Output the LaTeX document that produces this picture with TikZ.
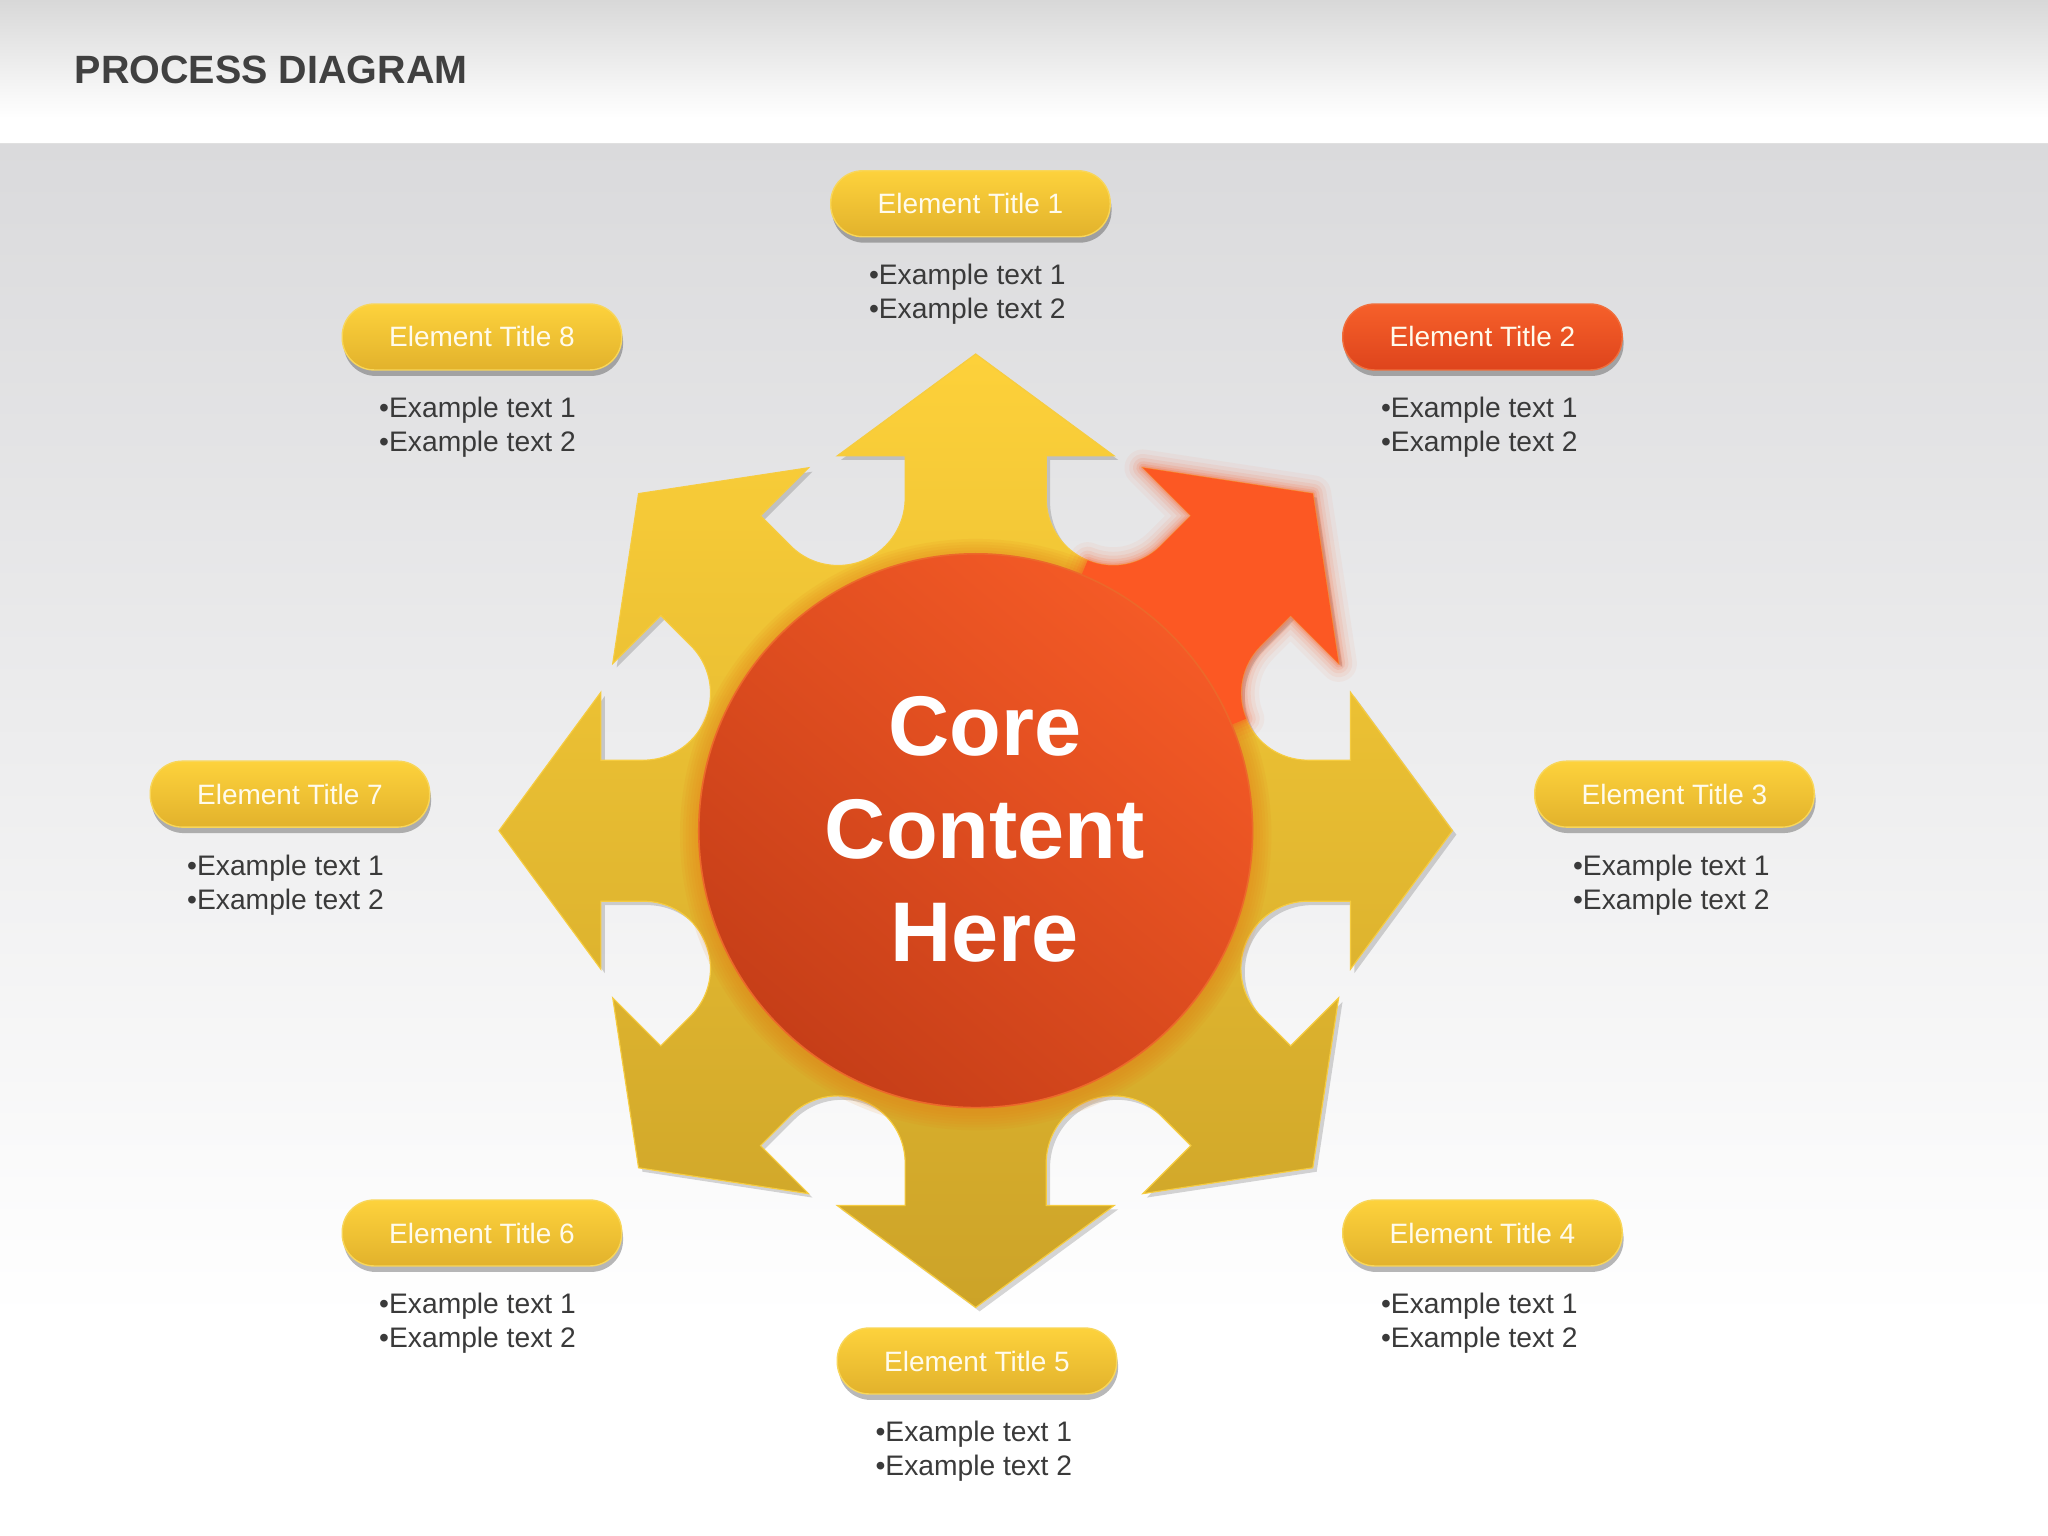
\documentclass[tikz,border=0pt]{standalone}
\usepackage{fontspec}
\setmainfont{Liberation Sans}
\usetikzlibrary{shadows}

\definecolor{ylTop}{RGB}{253,209,58}
\definecolor{ylBot}{RGB}{204,163,40}
\definecolor{ylEdge}{RGB}{246,204,64}
\definecolor{redArrow}{RGB}{252,88,35}
\definecolor{redLight}{RGB}{244,90,38}
\definecolor{redDark}{RGB}{198,62,24}
\definecolor{redEdge}{RGB}{236,104,42}
\definecolor{haloCol}{RGB}{228,132,24}
\definecolor{txtGray}{RGB}{58,58,58}
\definecolor{titleGray}{RGB}{64,64,64}
\definecolor{pillTop}{RGB}{253,210,60}
\definecolor{pillBot}{RGB}{226,178,44}
\definecolor{pillEdge}{RGB}{248,214,90}
\definecolor{pillRedTop}{RGB}{246,96,42}
\definecolor{pillRedBot}{RGB}{222,68,28}
\definecolor{pillRedEdge}{RGB}{240,110,60}
\definecolor{bgGray}{RGB}{218,218,220}
\definecolor{hdGray}{RGB}{216,216,216}
\definecolor{pillText}{RGB}{255,251,236}

% outline of the eight-arrow star (centre at origin)
\newcommand\starpath{%
  ({90+11.982}:260.10)
  \foreach \a in {90,45,0,-45,-90,-135,-180,-225}{
    -- ({\a+11.982}:260.10) -- ({\a+10.655}:292.04) -- ({\a+20.27}:305.95)
    -- (\a:365) -- ({\a-20.27}:305.95) -- ({\a-10.655}:292.04)
    -- ({\a-11.982}:260.10)
    arc[start angle={\a+90}, end angle={\a+225}, radius=51.39]
  } -- cycle}

% outline of the highlighted (north-east) arrow
\newcommand\redpath{%
  (67.5:224) arc[start angle=247.5, end angle=315, radius=51.39]
  -- (56.982:260.10) -- (55.655:292.04) -- (65.27:305.95) -- (45:365)
  -- (24.73:305.95) -- (34.345:292.04) -- (33.018:260.10)
  arc[start angle=135, end angle=202.5, radius=51.39]
  -- (0,0) -- cycle}

\tikzset{
  pill/.style={rectangle, rounded corners=0.49cm, minimum width=4.28cm,
    minimum height=1.01cm, inner sep=0pt, text=pillText,
    font=\fontsize{12.2}{14}\selectfont, line width=0.6pt,
    drop shadow={shadow xshift=0.6pt, shadow yshift=-2.6pt, opacity=0.28, fill=black}},
  ypill/.style={pill, top color=pillTop, bottom color=pillBot, draw=pillEdge},
  rpill/.style={pill, top color=pillRedTop, bottom color=pillRedBot, draw=pillRedEdge},
  extext/.style={anchor=north west, inner sep=0pt, align=left, text=txtGray,
    font=\fontsize{12.3}{14.8}\selectfont},
}

\begin{document}
\begin{tikzpicture}[x=0.02cm, y=0.02cm]
\useasboundingbox (0,0) rectangle (1568,-1176);

% background
\fill[white] (0,0) rectangle (1568,-1176);
\shade[top color=bgGray, bottom color=white] (0,-110) rectangle (1568,-1010);
\shade[top color=hdGray, bottom color=white] (0,0) rectangle (1568,-90);
\draw[line width=0.6pt, black!12] (0,-110) -- (1568,-110);

\node[anchor=base west, inner sep=0pt, text=titleGray,
      font=\bfseries\fontsize{17.2}{20}\selectfont] (title) at (57,-64) {PROCESS DIAGRAM};

\begin{scope}[shift={(747,-636)}]
  % shadow of the arrows
  \begin{scope}[shift={(3,-3)}]
    \fill[black, opacity=0.16] \starpath;
  \end{scope}
  % yellow arrow star
  \shade[top color=ylTop, bottom color=ylBot, draw=ylEdge, line width=0.5pt] \starpath;
  % halo of the core circle
  \foreach \k in {1,...,7}{
    \fill[haloCol, opacity=0.11] (0,-3) circle[radius={211+2.2*\k}];
  }
  % red highlighted arrow with glow
  \foreach \w/\o in {28/0.05, 21/0.07, 15/0.09, 10/0.12, 6/0.15, 3/0.2}{
    \draw[redArrow, line width=\w*0.2mm, opacity=\o, line join=round] \redpath;
  }
  \fill[redArrow] \redpath;
  % core circle
  \shade[top color=redLight, bottom color=redDark, shading angle=-40,
         draw=redEdge, line width=0.7pt] (0,0) circle[radius=212];
\end{scope}

\node[align=center, text=white, inner sep=0pt,
      font=\bfseries\fontsize{36.9}{44.7}\selectfont] (core) at (754,-635) {Core\\Content\\Here};

% titles
\node[ypill] (t1) at (743,-156) {Element Title 1};
\node[rpill] (t2) at (1135,-258) {Element Title 2};
\node[ypill] (t3) at (1282,-608) {Element Title 3};
\node[ypill] (t4) at (1135,-944) {Element Title 4};
\node[ypill] (t5) at (748,-1042) {Element Title 5};
\node[ypill] (t6) at (369,-944) {Element Title 6};
\node[ypill] (t7) at (222,-608) {Element Title 7};
\node[ypill] (t8) at (369,-258) {Element Title 8};

% example texts
\node[extext] (x1) at (665,-202) {•Example text 1\\•Example text 2};
\node[extext] (x2) at (1057,-304) {•Example text 1\\•Example text 2};
\node[extext] (x3) at (1204,-654) {•Example text 1\\•Example text 2};
\node[extext] (x4) at (1057,-990) {•Example text 1\\•Example text 2};
\node[extext] (x5) at (670,-1088) {•Example text 1\\•Example text 2};
\node[extext] (x6) at (290,-990) {•Example text 1\\•Example text 2};
\node[extext] (x7) at (143,-654) {•Example text 1\\•Example text 2};
\node[extext] (x8) at (290,-304) {•Example text 1\\•Example text 2};
\end{tikzpicture}
\end{document}
